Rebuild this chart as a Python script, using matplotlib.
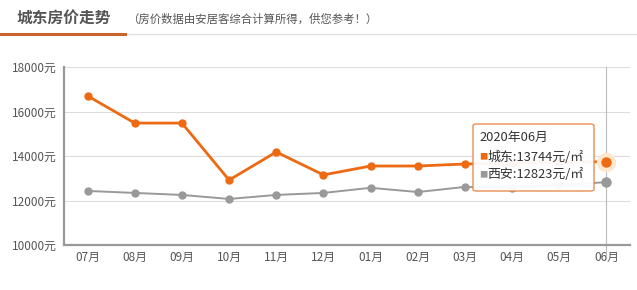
import matplotlib
matplotlib.use("Agg")
import matplotlib.pyplot as plt
from matplotlib.patches import FancyBboxPatch
from matplotlib.lines import Line2D

plt.rcParams['font.family'] = ['Noto Sans CJK SC', 'DejaVu Sans']

# ── Data ──────────────────────────────────────────────────────────────────────
months = ["07月", "08月", "09月", "10月", "11月", "12月",
          "01月", "02月", "03月", "04月", "05月", "06月"]
chengdong = [16700, 15480, 15480, 12920, 14180, 13150,
             13550, 13550, 13640, 13680, 13720, 13744]
xian = [12430, 12340, 12250, 12070, 12250, 12340,
        12570, 12380, 12610, 12560, 12700, 12823]
yticks = [10000, 12000, 14000, 16000, 18000]

ORANGE = "#ee6a12"
GRAY = "#999999"
TEXT = "#555555"

fig = plt.figure(figsize=(6.37, 2.90), dpi=100)

# ── Header ────────────────────────────────────────────────────────────────────
fig.text(17 / 637, 1 - 18 / 290, "城东房价走势", fontsize=11.3, fontweight="bold",
         color=TEXT, va="center", ha="left")
fig.text(127 / 637, 1 - 19 / 290, "（房价数据由安居客综合计算所得，供您参考！）",
         fontsize=8.2, color=TEXT, va="center", ha="left")
fig.add_artist(Line2D([125 / 637, 1.0], [1 - 34 / 290] * 2, color="#e2e2e2",
                      linewidth=1.0, transform=fig.transFigure))
fig.add_artist(Line2D([0, 125 / 637], [1 - 34 / 290] * 2, color="#c8652d",
                      linewidth=2.2, transform=fig.transFigure))

# ── Chart ─────────────────────────────────────────────────────────────────────
ax = fig.add_axes([64 / 637, 1 - 245 / 290, (630 - 64) / 637, (245 - 67) / 290])
x = list(range(len(months)))

ax.set_xlim(-0.5, len(months) - 0.5)
ax.set_ylim(10000, 18000)
ax.set_yticks(yticks)
ax.set_yticklabels([f"{v}元" for v in yticks])
ax.set_xticks(x)
ax.set_xticklabels(months)
ax.tick_params(axis="both", length=0, labelsize=8.5, labelcolor=TEXT)
ax.tick_params(axis="y", pad=5)
ax.tick_params(axis="x", pad=4)
ax.grid(axis="y", color="#dddddd", linewidth=0.8)
ax.set_axisbelow(True)
for side in ["top", "right"]:
    ax.spines[side].set_visible(False)
for side in ["left", "bottom"]:
    ax.spines[side].set_color("#999999")
    ax.spines[side].set_linewidth(1.6)

# pointer line at last month
ax.axvline(x[-1], color="#bbbbbb", linewidth=0.8, ymin=-0.06, ymax=1.0,
           clip_on=False, zorder=1)

ax.plot(x[:-1], xian[:-1], color=GRAY, linewidth=1.4, marker="o",
        markersize=5, zorder=3)
ax.plot(x[-2:], xian[-2:], color=GRAY, linewidth=1.4, zorder=3)
ax.plot(x[:-1], chengdong[:-1], color=ORANGE, linewidth=2.0, marker="o",
        markersize=5, zorder=4)
ax.plot(x[-2:], chengdong[-2:], color=ORANGE, linewidth=2.0, zorder=4)

# emphasized last points
ax.plot(x[-1], chengdong[-1], "o", color="#fde7cf", markersize=14,
        markeredgewidth=0, zorder=4)
ax.plot(x[-1], chengdong[-1], "o", color=ORANGE, markersize=7.5,
        markeredgewidth=0, zorder=5)
ax.plot(x[-1], xian[-1], "o", color=GRAY, markersize=7.5,
        markeredgewidth=0, zorder=5)

# ── Tooltip ───────────────────────────────────────────────────────────────────
box = FancyBboxPatch((473 / 637, 1 - 191 / 290), (594 - 473) / 637, (191 - 124) / 290,
                     boxstyle="round,pad=0,rounding_size=0.006",
                     facecolor="white", edgecolor="#e8894a", linewidth=1.0,
                     alpha=0.95, transform=fig.transFigure, zorder=10)
fig.add_artist(box)
fig.text(479 / 637, 1 - 137 / 290, "2020年06月", fontsize=9.3, color="#333333",
         va="center", ha="left", zorder=11)
fig.text(479 / 637, 1 - 157 / 290, "■", fontsize=6, color=ORANGE,
         va="center", ha="left", zorder=11)
fig.text(487 / 637, 1 - 157 / 290, f"城东:{chengdong[-1]}元/㎡", fontsize=9.3,
         color="#333333", va="center", ha="left", zorder=11)
fig.text(479 / 637, 1 - 175 / 290, "■", fontsize=6, color=GRAY,
         va="center", ha="left", zorder=11)
fig.text(487 / 637, 1 - 175 / 290, f"西安:{xian[-1]}元/㎡", fontsize=9.3,
         color="#333333", va="center", ha="left", zorder=11)

fig.savefig("out.png", dpi=100)
